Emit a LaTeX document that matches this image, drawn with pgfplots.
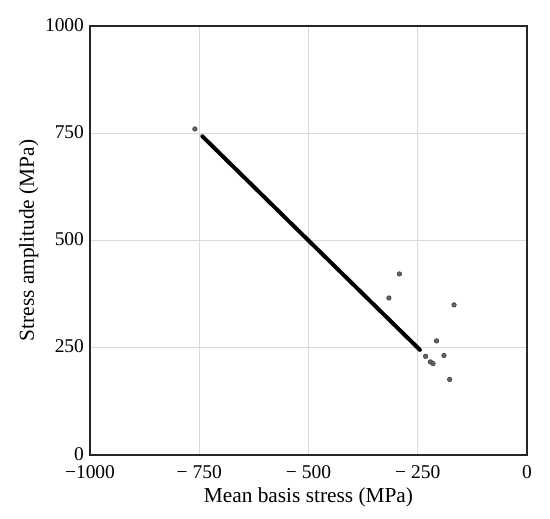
\documentclass[border=0pt]{standalone}
\usepackage{pgfplots}
\pgfplotsset{compat=1.18}
\usepackage{fontspec}
\setmainfont{Liberation Serif}
\begin{document}
\begin{tikzpicture}
\useasboundingbox (-67.5pt,-47.25pt) rectangle (345pt,341.25pt);
\begin{axis}[
  scale only axis,
  width=327.75pt, height=321.75pt,
  xmin=-1000, xmax=0, ymin=0, ymax=1000,
  xtick={-1000,-750,-500,-250,0},
  ytick={0,250,500,750,1000},
  xticklabels={−1000,− 750,− 500,− 250,0},
  yticklabels={0,250,500,750,1000},
  major tick length=0pt,
  grid=major,
  grid style={draw=black!15, line width=0.8pt},
  axis line style={black!85, line width=0.9pt},
  tick label style={font=\fontsize{14.6}{16}\selectfont},
  label style={font=\fontsize{16}{18}\selectfont},
  xticklabel style={yshift=-4.5pt},
  yticklabel style={xshift=-1pt, yshift=1pt},
  xlabel={Mean basis stress (MPa)},
  ylabel={Stress amplitude (MPa)},
  xlabel style={yshift=0pt},
  ylabel style={yshift=-2pt},
]
\addplot[black, line width=3pt, line cap=round] coordinates {
  (-743,743) (-650,650) (-550,550) (-450,450) (-380,380) (-300,300) (-245,245)
};
\addplot[only marks, mark=*, mark size=1.7pt, draw=black!80, fill=black!60] coordinates {
  (-760,760) (-292,422) (-316,366) (-167,350) (-207,266)
  (-232,230) (-221,217) (-215,213) (-190,232) (-177,176)
};
\end{axis}
\end{tikzpicture}
\end{document}
